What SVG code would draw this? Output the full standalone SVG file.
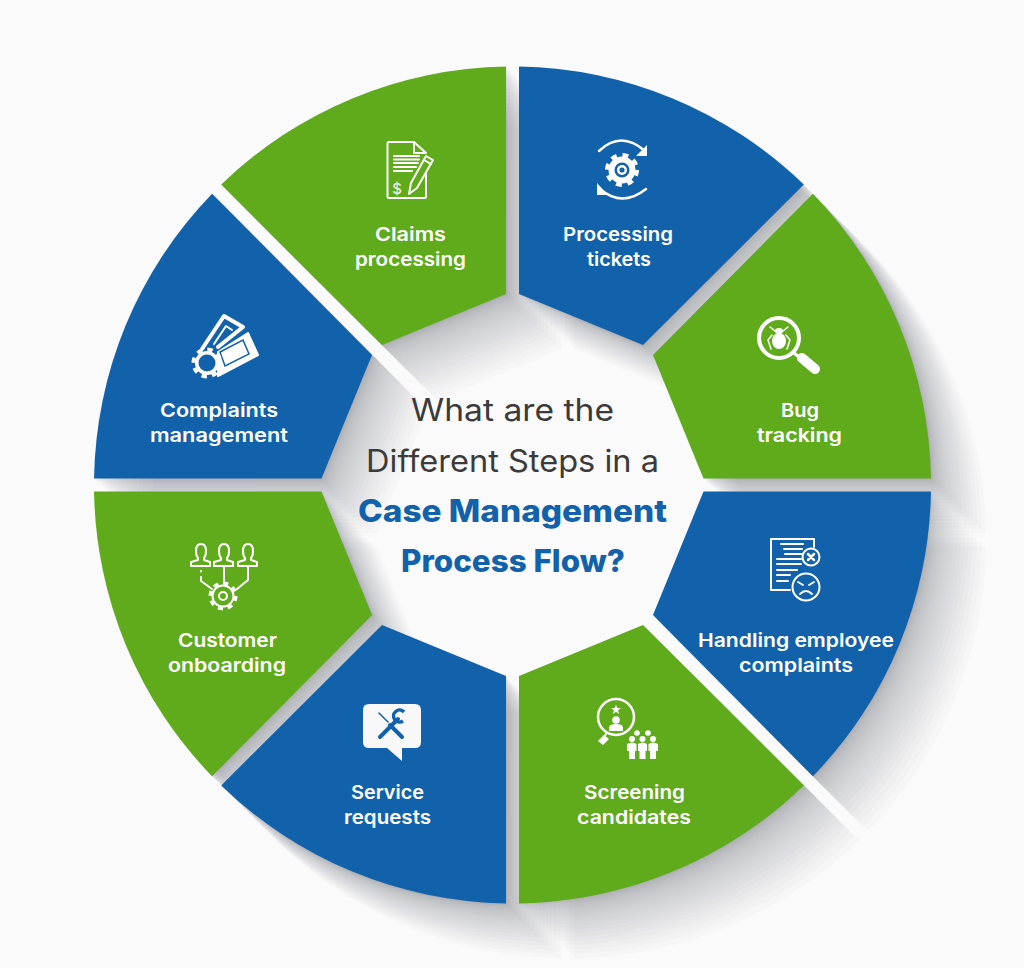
<svg xmlns="http://www.w3.org/2000/svg" width="1024" height="968" viewBox="0 0 1024 968">
<style>
.t{font-family:"Inter","Liberation Sans",sans-serif;font-weight:600;font-size:19px;fill:#fff}
.h{font-family:"Inter","Liberation Sans",sans-serif;font-size:31px;fill:#3b3b3b}
.hb{font-family:"Inter","Liberation Sans",sans-serif;font-size:31px;font-weight:800;fill:#1262ab}
.b{fill:#1262ab}.g{fill:#5fab1c}
.i{fill:none;stroke:#fff;stroke-linecap:round;stroke-linejoin:round}
.w{fill:#fff;stroke:none}
#shadow use{opacity:.012}
</style>
<defs>
<path id="p1" d="M519 66.55A418.45 418.45 0 0 1 803.8 184.6L643 345L519 294Z"/>
<path id="p2" d="M812.9 193.7A418.45 418.45 0 0 1 930.95 478.5L703.5 478.5L653 355Z"/>
<path id="p3" d="M930.95 491.5A418.45 418.45 0 0 1 812.9 776.3L653 615L703.5 491.5Z"/>
<path id="p4" d="M803.8 785.4A418.45 418.45 0 0 1 519 903.45L519 676L643 625Z"/>
<path id="p5" d="M506 903.45A418.45 418.45 0 0 1 221.2 785.4L382 625L506 676Z"/>
<path id="p6" d="M212.1 776.3A418.45 418.45 0 0 1 94.05 491.5L321.5 491.5L372 615Z"/>
<path id="p7" d="M94.05 478.5A418.45 418.45 0 0 1 212.1 193.7L372 355L321.5 478.5Z"/>
<path id="p8" d="M221.2 184.6A418.45 418.45 0 0 1 506 66.55L506 294L382 345Z"/>
<g id="all" fill="#1c2030"><use href="#p1"/><use href="#p2"/><use href="#p3"/><use href="#p4"/><use href="#p5"/><use href="#p6"/><use href="#p7"/><use href="#p8"/></g>
</defs>
<rect width="1024" height="968" fill="#fafafa"/>
<g id="shadow">
<use href="#all" transform="translate(.1,.1)"/><use href="#all" transform="translate(.4,.4)"/><use href="#all" transform="translate(.9,.9)"/><use href="#all" transform="translate(1.5,1.5)"/><use href="#all" transform="translate(2.4,2.4)"/><use href="#all" transform="translate(3.4,3.4)"/><use href="#all" transform="translate(4.7,4.7)"/><use href="#all" transform="translate(6.1,6.1)"/><use href="#all" transform="translate(7.7,7.7)"/><use href="#all" transform="translate(9.5,9.5)"/><use href="#all" transform="translate(11.6,11.6)"/><use href="#all" transform="translate(13.7,13.7)"/><use href="#all" transform="translate(16,16)"/><use href="#all" transform="translate(18.7,18.7)"/><use href="#all" transform="translate(21.5,21.5)"/><use href="#all" transform="translate(24.4,24.4)"/><use href="#all" transform="translate(27.6,27.6)"/><use href="#all" transform="translate(31,31)"/><use href="#all" transform="translate(34.6,34.6)"/><use href="#all" transform="translate(38.2,38.2)"/><use href="#all" transform="translate(42,42)"/><use href="#all" transform="translate(46.2,46.2)"/><use href="#all" transform="translate(50.5,50.5)"/><use href="#all" transform="translate(55,55)"/>
</g>
<g id="node-processing-tickets">
<use href="#p1" class="b"/>
<circle cx="622" cy="170" r="14.5" fill="none" stroke="#fff" stroke-width="5" stroke-dasharray="5.7 5.7"/>
<circle cx="622" cy="170" r="13.5" class="w"/><circle cx="622" cy="170" r="7.5" class="b"/><circle cx="622" cy="170" r="5" class="w"/><circle cx="622" cy="170" r="2.6" class="b"/>
<path class="i" stroke-width="2.5" d="M599 151Q621 130 645 151M600 189Q622 208 646 189"/>
<path class="w" d="M647 145V156H636ZM597 183V195H608Z"/>
<text class="t" x="618" y="241" text-anchor="middle" textLength="110" lengthAdjust="spacingAndGlyphs">Processing</text>
<text class="t" x="619" y="266" text-anchor="middle" textLength="64" lengthAdjust="spacingAndGlyphs">tickets</text>
</g>
<g id="node-bug-tracking">
<use href="#p2" class="g"/>
<circle cx="779" cy="338" r="20" fill="none" stroke="#fff" stroke-width="4"/>
<path class="i" stroke-width="3" d="M794 353L800 358"/><path class="i" stroke-width="10" d="M802 358L815 369"/>
<ellipse cx="779" cy="341" rx="7" ry="8" class="w"/><ellipse cx="779" cy="331" rx="4" ry="3" class="w"/>
<path class="i" stroke-width="1.5" d="M770 327L775 331M788 327L783 331M772 335L768 340L771 349M786 335L790 340L787 349"/>
<text class="t" x="800" y="417" text-anchor="middle" textLength="38" lengthAdjust="spacingAndGlyphs">Bug</text>
<text class="t" x="799.5" y="442" text-anchor="middle" textLength="85" lengthAdjust="spacingAndGlyphs">tracking</text>
</g>
<g id="node-handling-employee-complaints">
<use href="#p3" class="b"/>
<path class="i" stroke-width="2" d="M781 544H803M784 549H802M785 554H802M777 559H801M777 564H801M777 570H797M777 575H790M777 581H788"/>
<path class="i" stroke-width="2" d="M814 547V539H771V590H790"/>
<circle cx="811" cy="557" r="8.5" class="b" stroke="#fff" stroke-width="2"/>
<path class="i" stroke-width="2.5" d="M808 554L814 560M814 554L808 560"/>
<circle cx="806" cy="587" r="13.5" class="b" stroke="#fff" stroke-width="2"/>
<path class="i" stroke-width="1.8" d="M798 582L803 585M814 582L809 585M800 594Q806 588 812 594"/>
<text class="t" x="796" y="647" text-anchor="middle" textLength="196" lengthAdjust="spacingAndGlyphs">Handling employee</text>
<text class="t" x="796" y="672" text-anchor="middle" textLength="114" lengthAdjust="spacingAndGlyphs">complaints</text>
</g>
<g id="node-screening-candidates">
<use href="#p4" class="g"/>
<circle cx="616" cy="717" r="18" fill="none" stroke="#fff" stroke-width="2.5"/>
<path class="w" d="M616 704.5L617.3 708H621L618 710.3L619.2 714L616 711.800L612.800 714L614 710.300L611 708H614.700Z"/>
<circle cx="616" cy="720" r="3.8" class="w"/><path class="w" d="M609 731V727Q610 724 616 724Q622 724 623 727V731Z"/>
<path class="i" stroke-width="2" d="M606 734L604 737"/><path class="w" d="M598 741L604 735L609 739L603 745Z"/>
<circle cx="637" cy="733" r="2.8" class="w"/><circle cx="648" cy="733" r="2.8" class="w"/>
<circle cx="632" cy="739" r="3" class="w"/><circle cx="642.5" cy="739" r="3" class="w"/><circle cx="653" cy="739" r="3" class="w"/>
<path class="w" d="M627 744Q632 741 636.5 744V751H635V759H629V751H627ZM638 744Q642.5 741 647 744V751H645.5V759H639.5V751H638ZM648.5 744Q653 741 658 744V751H656V759H650V751H648.5Z"/>
<text class="t" x="634.5" y="799" text-anchor="middle" textLength="101" lengthAdjust="spacingAndGlyphs">Screening</text>
<text class="t" x="634" y="824" text-anchor="middle" textLength="114" lengthAdjust="spacingAndGlyphs">candidates</text>
</g>
<g id="node-service-requests">
<use href="#p5" class="b"/>
<path fill="#f8f8f8" d="M369 704H415Q421 704 421 710V742Q421 748 415 748H402V761L387 748H369Q363 748 363 742V710Q363 704 369 704Z"/>
<path fill="none" stroke="#1262ab" stroke-linecap="round" stroke-width="1.5" d="M379 713L388 722"/>
<path fill="none" stroke="#1262ab" stroke-linecap="round" stroke-width="4" d="M390 725L402 737M380 737L398 719"/>
<path fill="none" stroke="#1262ab" stroke-width="3.5" d="M404 712A6 6 0 1 0 403 721"/>
<text class="t" x="387.5" y="799" text-anchor="middle" textLength="73" lengthAdjust="spacingAndGlyphs">Service</text>
<text class="t" x="387.5" y="824" text-anchor="middle" textLength="87" lengthAdjust="spacingAndGlyphs">requests</text>
</g>
<g id="node-customer-onboarding">
<use href="#p6" class="g"/>
<g id="onboarding-people" class="i" stroke-width="2">
<path d="M196 551Q196 544 201 544Q206 544 206 551Q206 556 204 558V560L210 562V566H191V562L198 560V558Q196 556 196 551Z"/>
<path d="M219 551Q219 544 224 544Q229 544 229 551Q229 556 227 558V560L233 562V566H214V562L221 560V558Q219 556 219 551Z"/>
<path d="M243 551Q243 544 248 544Q253 544 253 551Q253 556 251 558V560L257 562V566H238V562L245 560V558Q243 556 243 551Z"/>
<path d="M201 577V581L212 589M224 566V583M248 566V580L237 589M201 571V571.5"/>
</g>
<circle cx="223" cy="596" r="12.5" fill="none" stroke="#fff" stroke-width="4" stroke-dasharray="4.9 4.9"/>
<circle cx="223" cy="596" r="10.5" class="g" stroke="#fff" stroke-width="2"/>
<circle cx="223" cy="596" r="4" class="i" stroke-width="2"/>
<text class="t" x="227.5" y="647" text-anchor="middle" textLength="99" lengthAdjust="spacingAndGlyphs">Customer</text>
<text class="t" x="227" y="672" text-anchor="middle" textLength="118" lengthAdjust="spacingAndGlyphs">onboarding</text>
</g>
<g id="node-complaints-management">
<use href="#p7" class="b"/>
<path class="i" stroke-width="4" d="M202 349L224 316L243 327L218 347"/>
<path class="i" stroke-width="2" d="M214 344L226 326L232 330"/>
<path fill="#fff" stroke="#fff" stroke-linejoin="round" stroke-width="2" d="M218 352L248 333L258 355L218 376Z"/>
<path fill="none" stroke="#1262ab" stroke-width="1.5" d="M220 352L243 340L249 354L225 366Z"/>
<circle cx="207" cy="363" r="13.5" fill="none" stroke="#fff" stroke-width="4" stroke-dasharray="5.3 5.3"/>
<circle cx="207" cy="363" r="12" class="w"/><circle cx="207" cy="363" r="8.5" class="b"/>
<text class="t" x="219" y="417" text-anchor="middle" textLength="118" lengthAdjust="spacingAndGlyphs">Complaints</text>
<text class="t" x="219" y="442" text-anchor="middle" textLength="138" lengthAdjust="spacingAndGlyphs">management</text>
</g>
<g id="node-claims-processing">
<use href="#p8" class="g"/>
<path class="i" stroke-width="2" d="M414 142H389Q387.5 142 387.5 143.5V196.5Q387.5 198 389 198H425Q426 198 426 197V168M414 142L426 153M414 142V153H426"/>
<path class="i" stroke-width="2" d="M394 156H419M394 159.5H419M394 163H418M394 167H416M394 171H412"/>
<path fill="#5fab1c" stroke="#fff" stroke-width="2" stroke-linejoin="round" d="M409 194L411 183L426 156L433 160L417 188Z"/>
<path class="i" stroke-width="2" d="M424 160L431 164"/>
<text x="397" y="194" font-family="Inter,'Liberation Sans',sans-serif" font-size="15" fill="#fff" text-anchor="middle">$</text>
<text class="t" x="410.5" y="241" text-anchor="middle" textLength="71" lengthAdjust="spacingAndGlyphs">Claims</text>
<text class="t" x="410.5" y="266" text-anchor="middle" textLength="111" lengthAdjust="spacingAndGlyphs">processing</text>
</g>
<g id="title">
<text class="h" x="512.5" y="421" text-anchor="middle" textLength="203" lengthAdjust="spacingAndGlyphs">What are the</text>
<text class="h" x="512.5" y="472" text-anchor="middle" textLength="293" lengthAdjust="spacingAndGlyphs">Different Steps in a</text>
<text class="hb" x="512.5" y="522" text-anchor="middle" textLength="309" lengthAdjust="spacingAndGlyphs">Case Management</text>
<text class="hb" x="513" y="572" text-anchor="middle" textLength="224" lengthAdjust="spacingAndGlyphs">Process Flow?</text>
</g>
</svg>
